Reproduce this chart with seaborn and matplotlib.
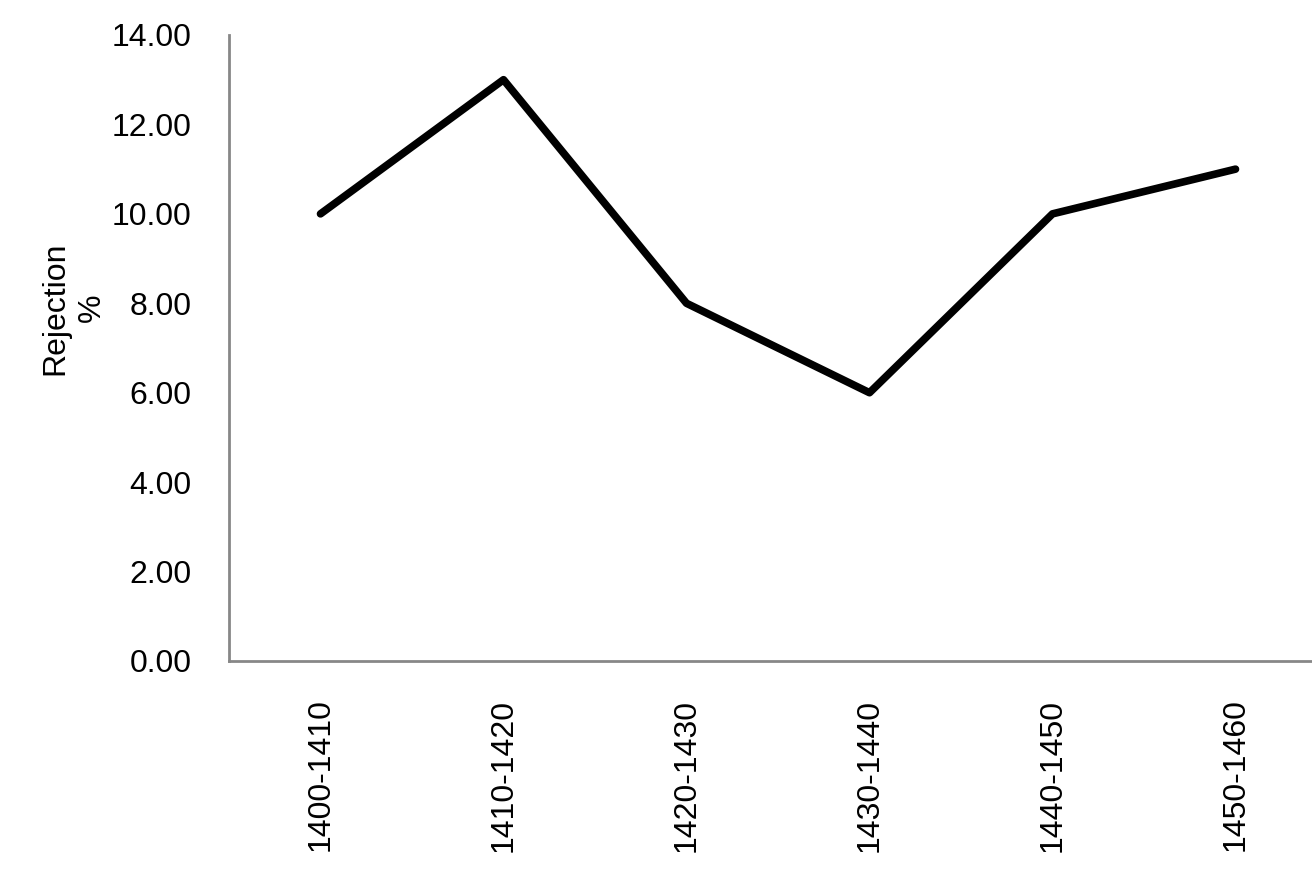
import pandas as pd
import matplotlib
matplotlib.use("Agg")
import matplotlib.pyplot as plt
import seaborn as sns

# chart data
intervals = ["1400-1410", "1410-1420", "1420-1430", "1430-1440", "1440-1450", "1450-1460"]
rejection = [10.0, 13.0, 8.0, 6.0, 10.0, 11.0]
y_ticks = [0, 2, 4, 6, 8, 10, 12, 14]

df = pd.DataFrame({"interval": intervals, "rejection": rejection})

sns.set_style("white")
plt.rcParams["font.family"] = ["Liberation Sans", "DejaVu Sans"]
plt.rcParams["text.color"] = "black"
plt.rcParams["axes.labelcolor"] = "black"
plt.rcParams["xtick.color"] = "black"
plt.rcParams["ytick.color"] = "black"

fig = plt.figure(figsize=(13.12, 8.89), dpi=100)
# axes runs a bit past the right edge, like the original
ax = fig.add_axes([229 / 1312, 228 / 889, 1098 / 1312, 626 / 889])

sns.lineplot(data=df, x="interval", y="rejection", sort=False, color="black",
             linewidth=5.5, ax=ax, clip_on=False)

ax.set_ylim(0, 14)
ax.set_xlim(-0.5, len(intervals) - 0.5)
ax.set_yticks(y_ticks)
ax.set_yticklabels([f"{v:.2f}" for v in y_ticks], fontsize=23)
ax.set_xticks(range(len(intervals)))
ax.set_xticklabels(intervals, rotation=90, fontsize=23)
ax.tick_params(axis="both", length=0)
ax.tick_params(axis="y", pad=27)
ax.tick_params(axis="x", pad=27)

ax.set_xlabel("")
ax.set_ylabel("Rejection\n%", fontsize=23, linespacing=1.3)
ax.yaxis.set_label_coords(-0.111, 0.564)

for side in ["top", "right"]:
    ax.spines[side].set_visible(False)
for side in ["left", "bottom"]:
    ax.spines[side].set_color("#878787")
    ax.spines[side].set_linewidth(2)

fig.savefig("out.png", dpi=100)
